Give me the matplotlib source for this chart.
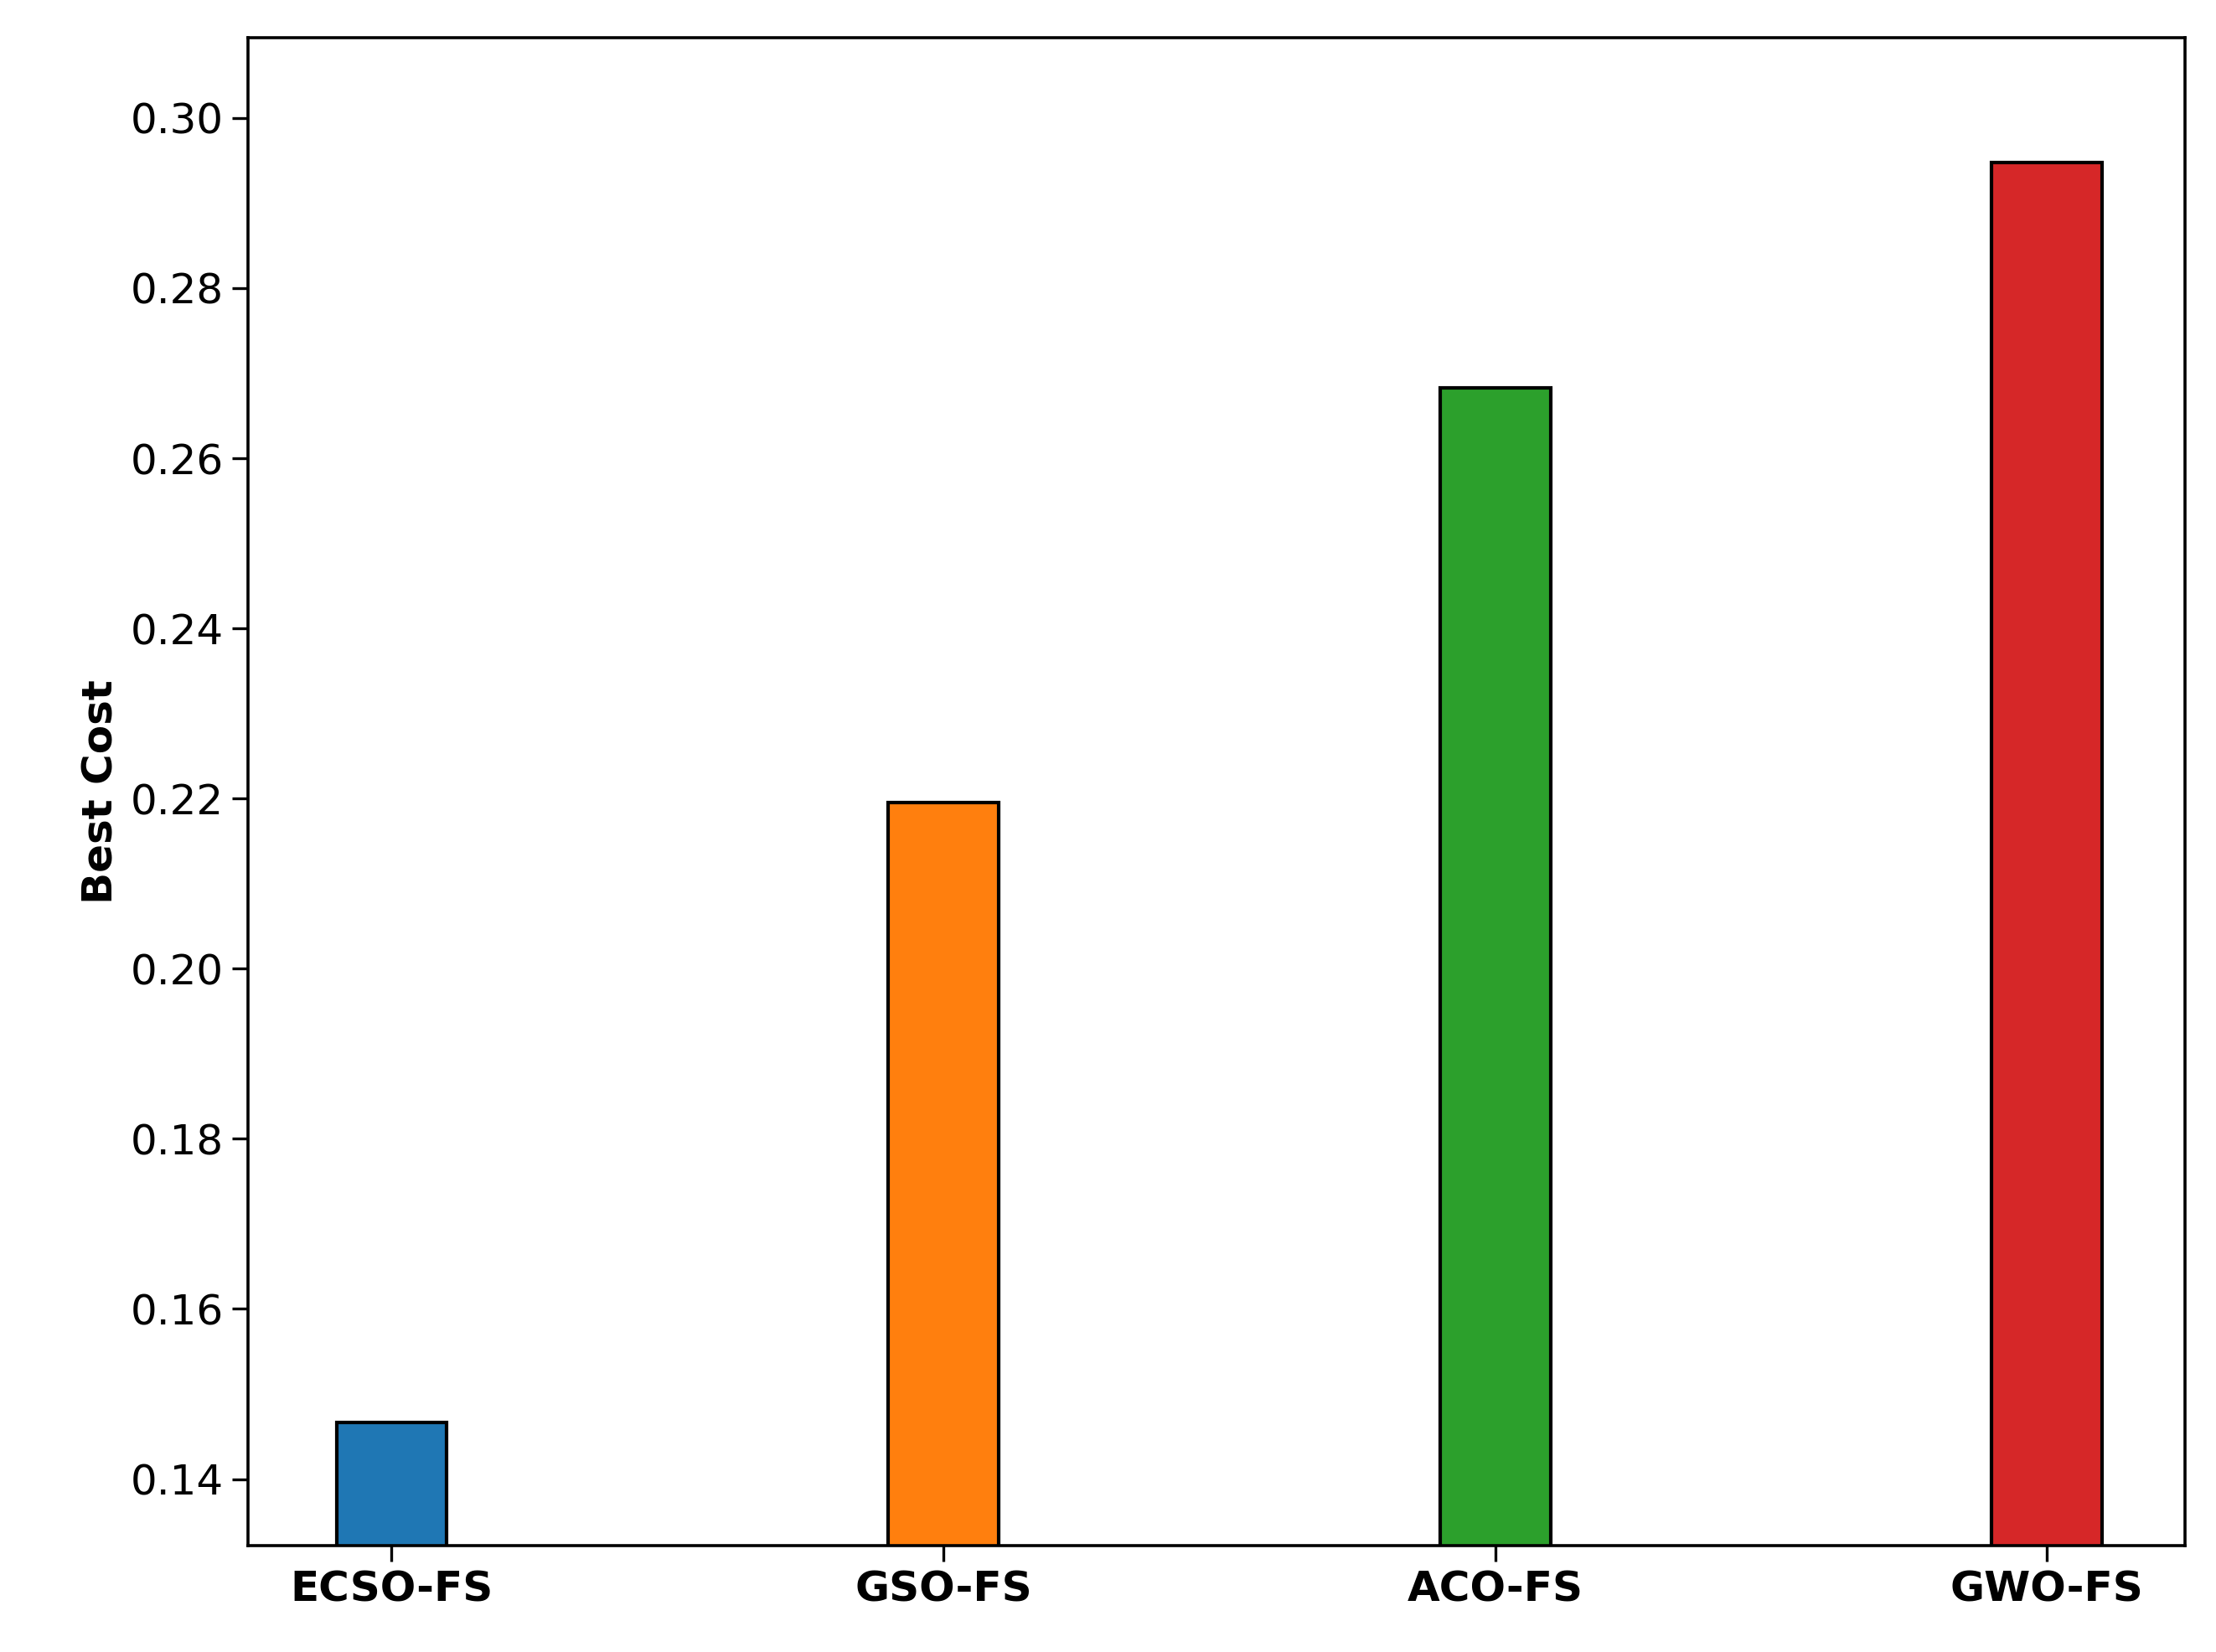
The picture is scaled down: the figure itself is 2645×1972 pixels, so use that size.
import matplotlib
matplotlib.use("Agg")
import matplotlib.pyplot as plt

methods = ["ECSO-FS", "GSO-FS", "ACO-FS", "GWO-FS"]
best_cost = [0.1467, 0.2195, 0.2683, 0.2948]
colors = ["#1f77b4", "#ff7f0e", "#2ca02c", "#d62728"]

fig = plt.figure(figsize=(13.225, 9.86), dpi=200)
ax = fig.add_axes([0.112, 0.0645, 0.874, 0.9125])
x = list(range(len(methods)))
ax.bar(x, best_cost, width=0.2, color=colors, edgecolor="black", linewidth=1.5)
ax.set_xlim(-0.26, 3.25)
ax.set_ylim(0.1322, 0.3094)
ax.set_yticks([0.14, 0.16, 0.18, 0.20, 0.22, 0.24, 0.26, 0.28, 0.30])
ax.set_xticks(x)
ax.set_xticklabels(methods, fontweight="bold", fontsize=18)
ax.tick_params(axis="y", labelsize=18, length=7, width=1.2)
ax.tick_params(axis="x", length=7, width=1.2)
ax.set_ylabel("Best Cost", fontweight="bold", fontsize=18)
for s in ax.spines.values():
    s.set_linewidth(1.3)
fig.savefig("out.png", dpi=200)
